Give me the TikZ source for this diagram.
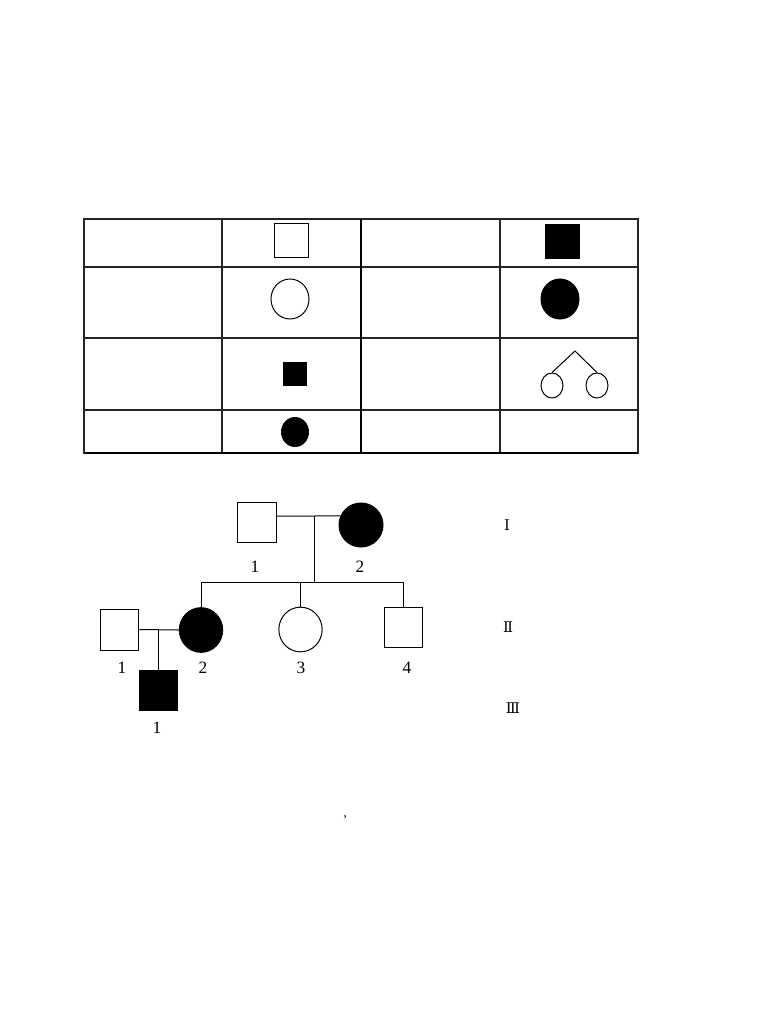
\documentclass[tikz,border=0pt]{standalone}
\usepackage{fontspec}
\setmainfont{Liberation Serif}
\newfontfamily\romfont{DejaVu Serif}
\usetikzlibrary{shapes.geometric}
\begin{document}
\begin{tikzpicture}[x=0.75pt,y=-0.75pt,
  grid/.style={line width=0.9pt,draw=black!85},
  conn/.style={line width=0.75pt},
  male/.style={draw,line width=0.75pt,rectangle,inner sep=0pt,minimum width=29pt,minimum height=29.5pt},
  female/.style={draw,line width=0.75pt,ellipse,inner sep=0pt,minimum width=32.5pt,minimum height=33.5pt},
  aff/.style={fill=black},
  lab/.style={font=\fontsize{13}{13}\selectfont,inner sep=0pt},
  gen/.style={font=\romfont\fontsize{11}{11}\selectfont,inner sep=0pt}]
\useasboundingbox (0,0) rectangle (768,1024);
% table
\draw[grid] (84,219) rectangle (638,453);
\foreach \yy in {267,338,410} \draw[grid] (84,\yy) -- (638,\yy);
\foreach \xx in {222,500} \draw[grid] (\xx,219) -- (\xx,453);
\draw[line width=1.5pt] (361,219) -- (361,453);
\draw[line width=1.5pt] (84,453) -- (638,453);
\node[male,minimum width=25.5pt,minimum height=26pt] (tm) at (291,240.5) {};
\node[male,aff,minimum width=25.5pt,minimum height=25.5pt] (tam) at (562,241) {};
\node[female,minimum width=28.5pt,minimum height=30pt] (tf) at (290,299) {};
\node[female,aff,minimum width=28.5pt,minimum height=30pt] (taf) at (560,299) {};
\node[rectangle,fill=black,inner sep=0pt,minimum size=18pt] (tsm) at (295,374) {};
\node[ellipse,fill=black,inner sep=0pt,minimum width=21pt,minimum height=22.5pt] (tsf) at (295,432) {};
\coordinate (apex) at (575,351);
\node[female,minimum width=16.5pt,minimum height=18.75pt] (tw1) at (552,385.5) {};
\node[female,minimum width=16.5pt,minimum height=18.75pt] (tw2) at (597,385.5) {};
\draw[conn] (tw1.north) -- (apex) -- (tw2.north);
% pedigree
\node[male] (I1) at (257,522.5) {};
\node[female,aff,minimum width=33pt,minimum height=33pt] (I2) at (361,525) {};
\node[male,minimum height=30.75pt] (II1) at (119.5,629.5) {};
\node[female,aff] (II2) at (201,630) {};
\node[female] (II3) at (300.5,629.5) {};
\node[male,minimum height=30pt] (II4) at (403.5,627) {};
\node[male,aff,minimum height=30pt] (III1) at (158.5,690) {};
\coordinate (m1) at (314,516);
\coordinate (s1) at (314,582);
\coordinate (m2) at (158.5,630);
\draw[conn] (I1.east |- m1) -- (m1) -- (I2.156);
\draw[conn] (m1) -- (s1);
\draw[conn] (II2.north |- s1) -- (II4.north |- s1);
\draw[conn] (II2.north |- s1) -- (II2.north);
\draw[conn] (II3.north |- s1) -- (II3.north);
\draw[conn] (II4.north |- s1) -- (II4.north);
\draw[conn] (II1.east) -- (II2.west);
\draw[conn] (m2) -- (III1.north);
% labels
\node[lab] (lI1) at (255,567) {1};
\node[lab] (lI2) at (360,567) {2};
\node[lab] (lII1) at (122,667.5) {1};
\node[lab] (lII2) at (203,667.5) {2};
\node[lab] (lII3) at (301,667.5) {3};
\node[lab] (lII4) at (407,667.5) {4};
\node[lab] (lIII1) at (157,728) {1};
\node[gen] (gI) at (507,525) {Ⅰ};
\node[gen] (gII) at (508,627) {Ⅱ};
\node[gen] (gIII) at (513,708) {Ⅲ};
\node[lab,font=\fontsize{10}{10}\selectfont] (apos) at (345,820) {'};
\end{tikzpicture}
\end{document}
